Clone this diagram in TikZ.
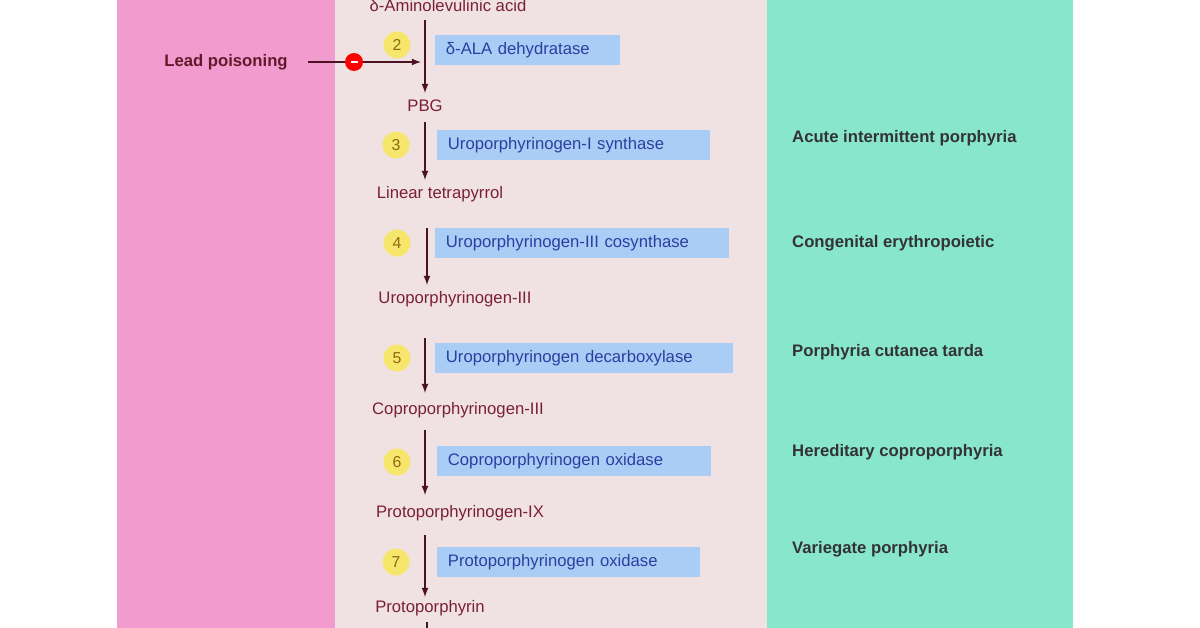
\documentclass[tikz,border=0pt]{standalone}
\usepackage{fontspec}
\setmainfont{Liberation Sans}
\usetikzlibrary{positioning}
\definecolor{leftcol}{HTML}{F29BCF}
\definecolor{midcol}{HTML}{F0E2E2}
\definecolor{rightcol}{HTML}{88E6CC}
\definecolor{enzfill}{HTML}{AACDF6}
\definecolor{enztext}{HTML}{2A3FA0}
\definecolor{cmptext}{HTML}{7A2035}
\definecolor{numfill}{HTML}{F6E66C}
\definecolor{numtext}{HTML}{8A6A10}
\definecolor{arrcol}{HTML}{4A1222}
\tikzset{
    cmp/.style={text=cmptext, font=\fontsize{9.5}{11}\selectfont},
    enz/.style={fill=enzfill, text=enztext, font=\fontsize{9.5}{11}\selectfont,
        anchor=west, inner xsep=6pt, minimum height=0.6cm, align=left,
        text width=#1cm-12pt},
    num/.style={circle, fill=numfill, text=numtext, inner sep=0pt,
        minimum size=0.54cm, font=\fontsize{9}{10}\selectfont},
    dis/.style={anchor=west, text=black!80, font=\bfseries\fontsize{9.5}{11}\selectfont},
    conv/.style={arrcol, thick, -latex}
}
\begin{document}
\begin{tikzpicture}[x=0.02cm, y=-0.02cm]
    \useasboundingbox (0,0) rectangle (1200,628);
    \fill[leftcol] (117,0) rectangle (335,628);
    \fill[midcol] (335,0) rectangle (767,628);
    \fill[rightcol] (767,0) rectangle (1073,628);

    % compounds
    \node[cmp] (ala) at (448,6) {δ-Aminolevulinic acid};
    \node[cmp] (pbg) at (425,106) {PBG};
    \node[cmp] (lin) at (440,194) {Linear tetrapyrrol};
    \node[cmp] (uro) at (455,299) {Uroporphyrinogen-III};
    \node[cmp] (cop) at (458,410) {Coproporphyrinogen-III};
    \node[cmp] (pgn) at (460,513) {Protoporphyrinogen-IX};
    \node[cmp] (ppn) at (430,608) {Protoporphyrin};
    \coordinate (tail) at (427,632);

    % conversions
    \draw[conv] (425,20) -- (425,93);
    \draw[conv] (425,122) -- (425,180);
    \draw[conv] (427,228) -- (427,285);
    \draw[conv] (425,338) -- (425,393);
    \draw[conv] (425,430) -- (425,495);
    \draw[conv] (425,535) -- (425,597);
    \draw[arrcol, thick] (427,622) -- (tail);

    % enzymes
    \node[num] (n2) at (397,45) {2};
    \node[enz=3.7] (e2) at (435,50) {δ-ALA dehydratase};
    \node[num] (n3) at (396,145) {3};
    \node[enz=5.46] (e3) at (437,145) {Uroporphyrinogen-I synthase};
    \node[num] (n4) at (397,243) {4};
    \node[enz=5.88] (e4) at (435,243) {Uroporphyrinogen-III cosynthase};
    \node[num] (n5) at (397,358) {5};
    \node[enz=5.96] (e5) at (435,358) {Uroporphyrinogen decarboxylase};
    \node[num] (n6) at (397,462) {6};
    \node[enz=5.48] (e6) at (437,461) {Coproporphyrinogen oxidase};
    \node[num] (n7) at (396,562) {7};
    \node[enz=5.26] (e7) at (437,562) {Protoporphyrinogen oxidase};

    % lead
    \node[text=cmptext!80!black, font=\bfseries\fontsize{9.5}{11}\selectfont] (lead) at (226,62) {Lead poisoning};
    \coordinate (hit) at (421,62);
    \draw[conv] (308,62) -- (hit);
    \node[circle, fill=red, minimum size=0.36cm, inner sep=0pt] (inh) at (354,62) {};
    \draw[white, line width=1.2pt] (inh.center) ++(-3.5,0) -- ++(7,0);

    % diseases
    \node[dis] (d3) at (786,138) {Acute intermittent porphyria};
    \node[dis] (d4) at (786,243) {Congenital erythropoietic};
    \node[dis] (d5) at (786,352) {Porphyria cutanea tarda};
    \node[dis] (d6) at (786,452) {Hereditary coproporphyria};
    \node[dis] (d7) at (786,549) {Variegate porphyria};
\end{tikzpicture}
\end{document}
